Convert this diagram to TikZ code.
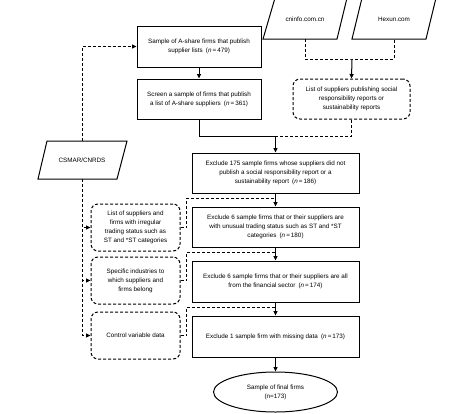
\documentclass[tikz,border=0pt]{standalone}
\usepackage{fontspec}
\setmainfont{Liberation Sans}
\usetikzlibrary{arrows.meta,shapes.geometric}
\begin{document}
\begin{tikzpicture}[x=1pt,y=-1pt,
  txt/.style={inner sep=0pt,align=center,font=\fontsize{6.3}{9}\selectfont},
  box/.style={txt,draw,line width=1pt},
  dbox/.style={txt,draw,line width=1pt,dash pattern=on 3pt off 2pt,rounded corners=7pt},
  dsh/.style={line width=1pt,dash pattern=on 3pt off 2pt},
  sol/.style={line width=1pt},
  arr/.style={-{Triangle[length=4.5pt,width=4pt]}}
]
\useasboundingbox (0,0) rectangle (474,413);
\clip (0,0) rectangle (474,413);
% parallelograms
\draw[sol] (263,39) -- (275,-2) -- (347,-2) -- (337,39) -- cycle;
\draw[sol] (352,39) -- (362,-2) -- (436,-2) -- (426,39) -- cycle;
\draw[sol] (38,179) -- (47,141) -- (127,141) -- (117,179) -- cycle;
\node[txt,minimum height=40pt] (c1) at (305,19) {cninfo.com.cn};
\node[txt,minimum height=40pt] (hx) at (394,19) {Hexun.com};
\node[txt,minimum height=38pt] (cs) at (82,160) {CSMAR/CNRDS};
% main boxes
\node[box,minimum width=124pt,minimum height=41pt] (b1) at (199,46.5) {Sample of A-share firms that publish\\supplier lists\enspace(\textit{n}\,=\,479)};
\node[box,minimum width=124pt,minimum height=40pt] (b2) at (199,99) {Screen a sample of firms that publish\\a list of A-share suppliers\enspace(\textit{n}\,=\,361)};
\node[box,minimum width=167pt,minimum height=40pt] (b3) at (275.5,173) {Exclude 175 sample firms whose suppliers did not\\publish a social responsibility report or a\\sustainability report\enspace(\textit{n}\,=\,186)};
\node[box,minimum width=167pt,minimum height=40pt] (b4) at (275.5,227) {Exclude 6 sample firms that or their suppliers are\\with unusual trading status such as ST and *ST\\categories\enspace(\textit{n}\,=\,180)};
\node[box,minimum width=167pt,minimum height=41pt] (b5) at (275.5,281.5) {Exclude 6 sample firms that or their suppliers are all\\from the financial sector\enspace(\textit{n}\,=\,174)};
\node[box,minimum width=167pt,minimum height=41pt] (b6) at (275.5,336.5) {Exclude 1 sample firm with missing data\enspace(\textit{n}\,=\,173)};
\node[txt,draw,sol,ellipse,minimum width=124pt,minimum height=40pt] (fin) at (275.5,392) {Sample of final firms\\(n=173)};
% dashed boxes
\node[dbox,minimum width=117pt,minimum height=40pt] (rs) at (351.5,99) {List of suppliers publishing social\\responsibility reports or\\sustainability reports};
\node[dbox,minimum width=89pt,minimum height=47pt] (l1) at (135.5,227.5) {List of suppliers and\\firms with irregular\\trading status such as\\ST and *ST categories};
\node[dbox,minimum width=89pt,minimum height=47pt] (l2) at (135.5,280.5) {Specific industries to\\which suppliers and\\firms belong};
\node[dbox,minimum width=89pt,minimum height=47pt] (l3) at (135.5,335.5) {Control variable data};
% junctions
\coordinate (j1) at (352,59);
\coordinate (j2) at (275.5,136);
\coordinate (j3) at (275.5,198);
\coordinate (j4) at (275.5,252);
\coordinate (j5) at (275.5,307);
% connectors
\draw[sol,arr] (b1) -- (b2);
\draw[dsh] (c1.south) |- (j1) -| (hx.south);
\draw[sol,arr] (j1) -- (rs.north);
\draw[sol] (b2.south) |- (j2);
\draw[dsh] (rs.south) |- (j2);
\draw[sol,arr] (j2) -- (b3.north);
\draw[sol,arr] (b3.south) -- (b4.north);
\draw[sol,arr] (b4.south) -- (b5.north);
\draw[sol,arr] (b5.south) -- (b6.north);
\draw[sol,arr] (b6.south) -- (fin.north);
\draw[dsh] (l1.east) -- ++(6,0) |- (j3);
\draw[dsh] (l2.east) -- ++(6,0) |- (j4);
\draw[dsh] (l3.east) -- ++(6,0) |- (j5);
\draw[dsh,arr] (cs.north) |- (b1.west);
\draw[dsh,arr] (cs.south) |- (l1.west);
\draw[dsh,arr] (cs.south) |- (l2.west);
\draw[dsh,arr] (cs.south) |- (l3.west);
\end{tikzpicture}
\end{document}
